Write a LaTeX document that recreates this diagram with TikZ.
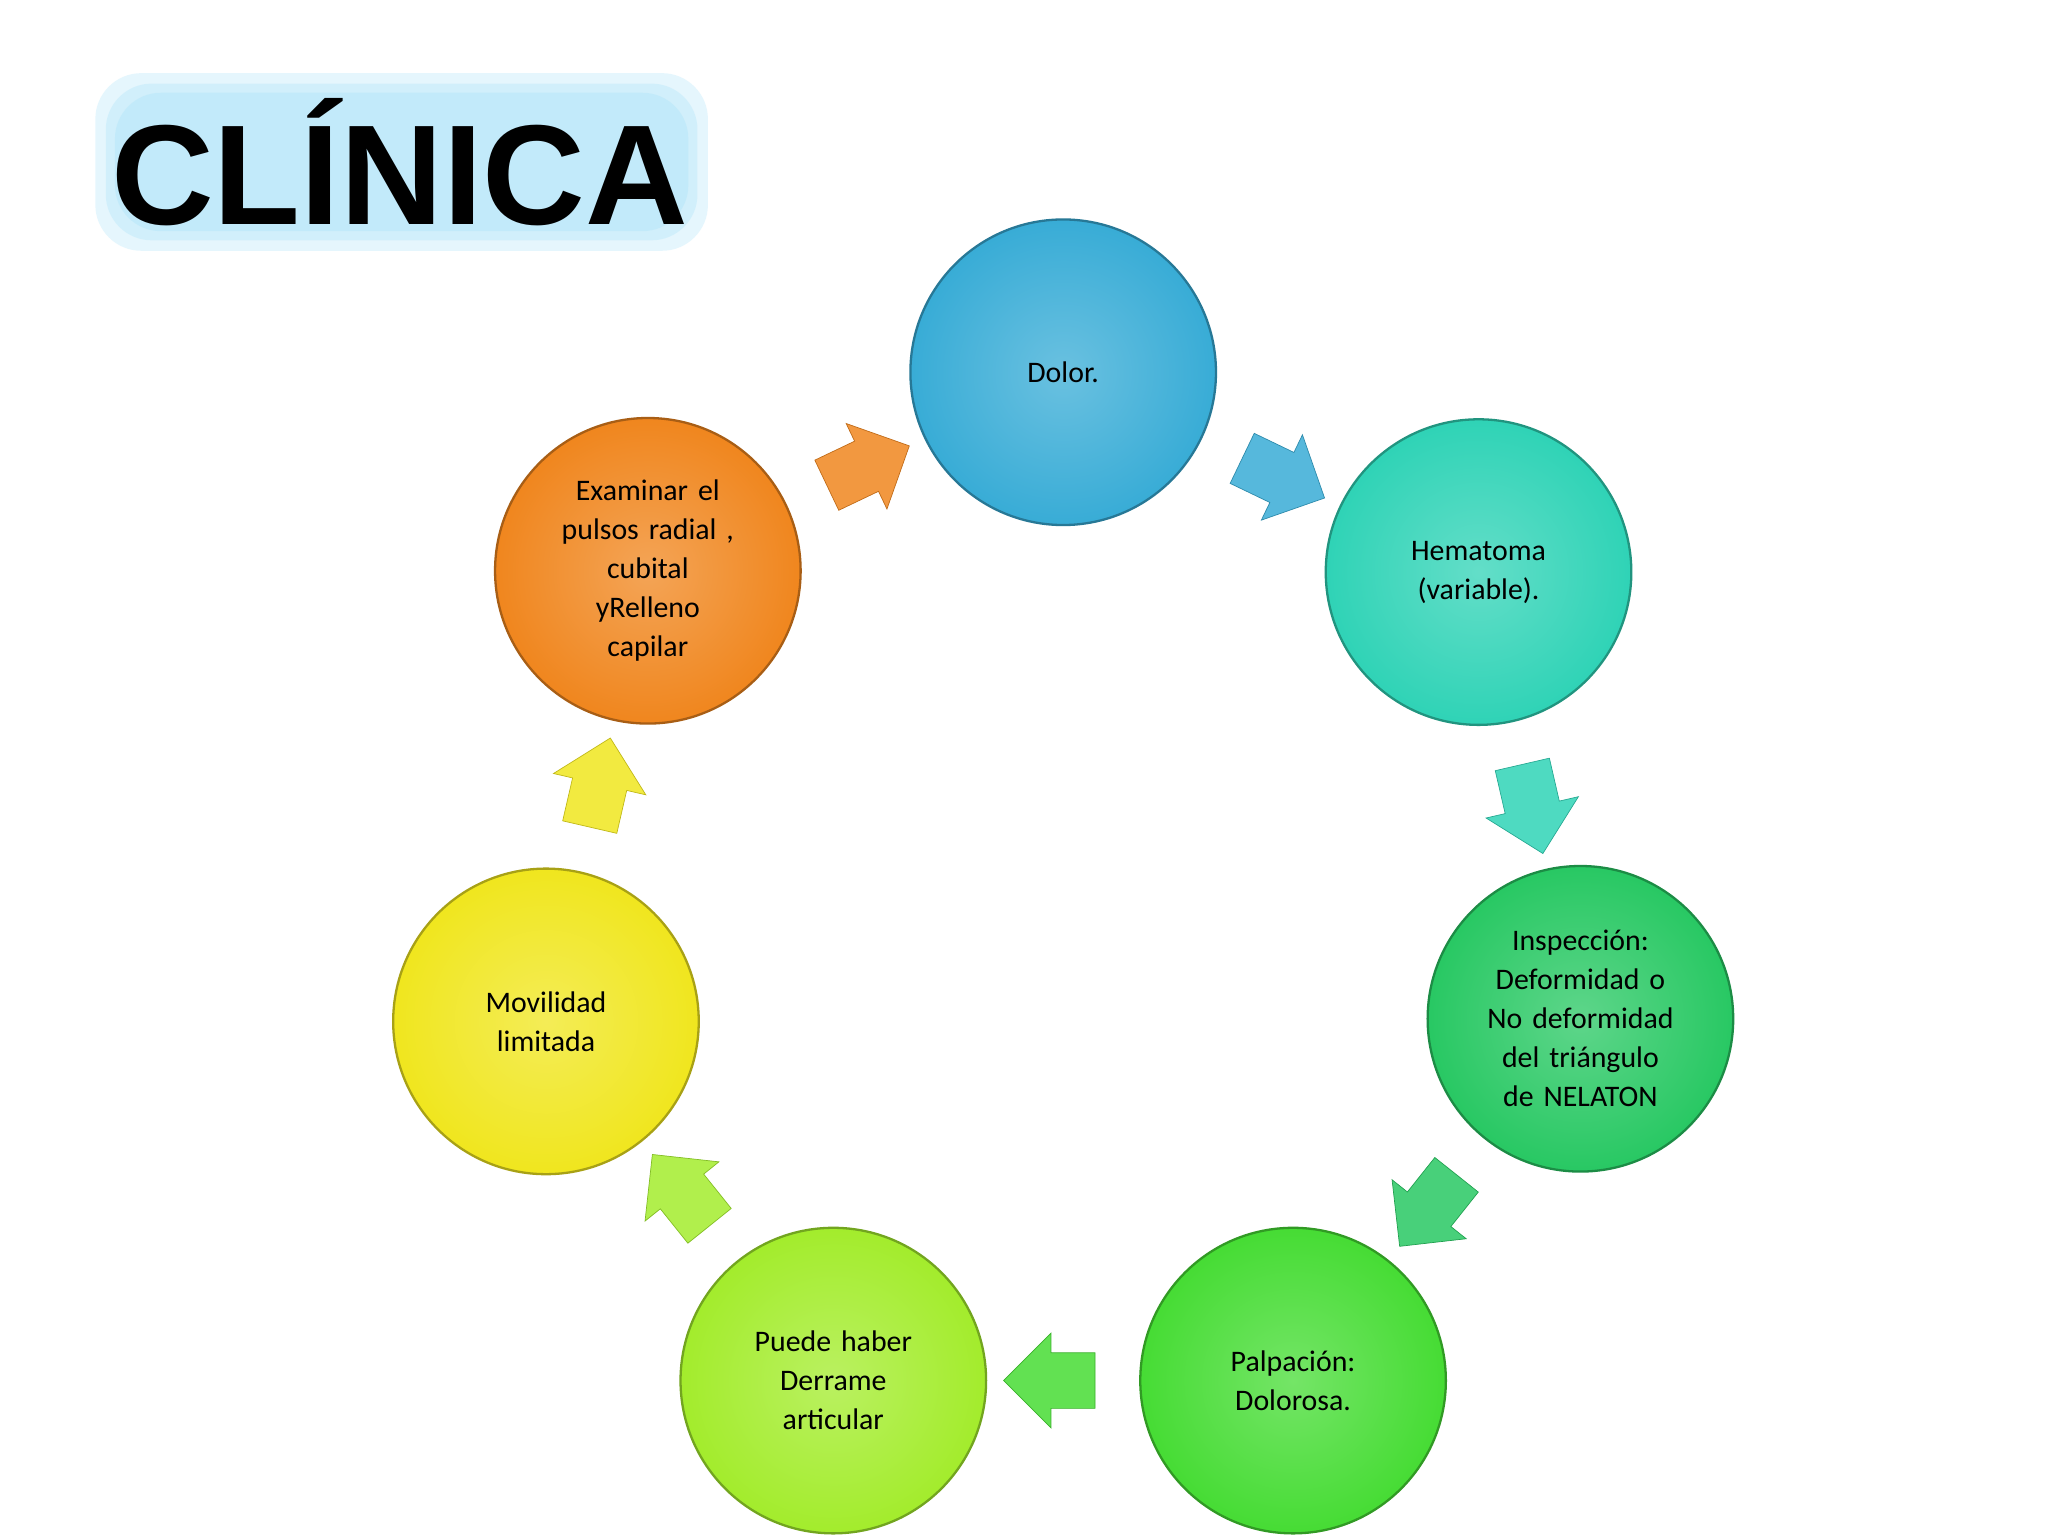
\documentclass[tikz,border=0pt]{standalone}
\usepackage{fontspec}
\setmainfont{Carlito}
\newfontfamily\titlefont{Liberation Sans}
\usetikzlibrary{shapes.arrows,calc}
\definecolor{cdolor}{HTML}{38ACD6}
\definecolor{chema}{HTML}{2FD3B6}
\definecolor{cinsp}{HTML}{28C863}
\definecolor{cpalp}{HTML}{46DC34}
\definecolor{cpuede}{HTML}{A3EC2C}
\definecolor{cmovil}{HTML}{F0E61E}
\definecolor{cexam}{HTML}{F0861E}
\tikzset{
  stepball/.style={circle,minimum size=4.68cm,inner sep=0pt,text width=3.6cm,align=center,
    font=\fontsize{13}{17}\selectfont,draw=#1!70!black,line width=1pt,
    shading=radial,inner color=#1!75!white,outer color=#1},
  flowarrow/.style={single arrow,minimum height=1.4cm,inner sep=0.42cm,
    single arrow head extend=0.3cm,fill=#1!85!white,draw=#1!80!black,line width=0.3pt}
}
\begin{document}
\begin{tikzpicture}[x=0.02cm,y=-0.02cm]
\useasboundingbox (0,0) rectangle (1568,1176);
\fill[white] (0,0) rectangle (1568,1176);
% title with glow
\foreach \g in {22,14,7}
  \fill[cyan!40,opacity=0.25,rounded corners=20pt] (95-\g,78-\g) rectangle (520+\g,170+\g);
\node[font=\titlefont\bfseries\fontsize{62}{62}\selectfont] (title) at (306,124) {CLÍNICA};
% circles
\node[stepball=cdolor] (dolor) at (814,285) {Dolor.};
\node[stepball=chema] (hema) at (1132,438) {Hematoma\\(variable).};
\node[stepball=cinsp] (insp) at (1210,780) {Inspección:\\Deformidad o\\No deformidad\\del triángulo\\de NELATON};
\node[stepball=cpalp] (palp) at (990,1057) {Palpación:\\Dolorosa.};
\node[stepball=cpuede] (puede) at (638,1057) {Puede haber\\Derrame\\articular};
\node[stepball=cmovil] (movil) at (418,782) {Movilidad\\limitada};
\node[stepball=cexam] (exam) at (496,437) {Examinar el\\pulsos radial ,\\cubital\\yRelleno\\capilar};
% arrows
\node[flowarrow=cexam,rotate=25.5] (a1) at ($(exam)!0.5!(dolor)$) {};
\node[flowarrow=cdolor,rotate=-25.7] (a2) at ($(dolor)!0.5!(hema)$) {};
\node[flowarrow=chema,rotate=-77] (a3) at ($(hema)!0.5!(insp)$) {};
\node[flowarrow=cinsp,rotate=-128.5] (a4) at ($(insp)!0.5!(palp)$) {};
\node[flowarrow=cpalp,rotate=180] (a5) at ($(palp)!0.5!(puede)$) {};
\node[flowarrow=cpuede,rotate=128.7] (a6) at ($(puede)!0.5!(movil)$) {};
\node[flowarrow=cmovil,rotate=77] (a7) at ($(movil)!0.5!(exam)$) {};
\end{tikzpicture}
\end{document}
